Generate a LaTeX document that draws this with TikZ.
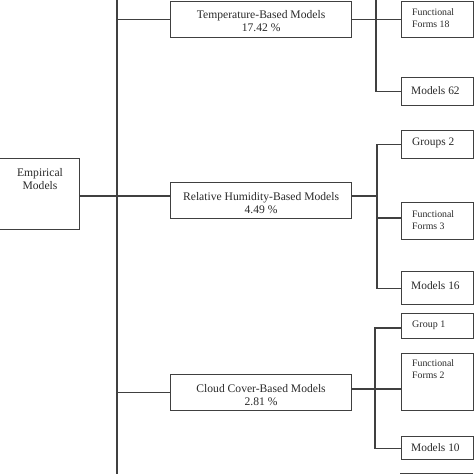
\documentclass[tikz,border=0pt]{standalone}
\usepackage{fontspec}
\setmainfont{Liberation Serif}
\usetikzlibrary{calc}
\definecolor{linec}{HTML}{404040}
\definecolor{txtc}{HTML}{2A2A2A}
\begin{document}
\begin{tikzpicture}[x=1pt,y=-1pt,
  box/.style={draw=linec, line width=1.2pt, inner sep=0pt, anchor=north west},
  conn/.style={draw=linec, line width=1.05pt},
  bigtxt/.style={text=txtc, font=\fontsize{11.6}{13}\selectfont, align=center, inner sep=0pt},
  rtxt/.style={text=txtc, font=\fontsize{11.4}{13}\selectfont, align=left, anchor=west, inner sep=0pt},
  stxt/.style={text=txtc, font=\fontsize{9.8}{12}\selectfont, align=left, inner sep=0pt}]
\useasboundingbox (0,0) rectangle (474,474);
\clip (0,0) rectangle (474,474);
\fill[white] (0,0) rectangle (474,474);

% boxes
\node[box, minimum width=81pt, minimum height=71pt] (emp) at (-2,158) {};
\node[box, minimum width=181pt, minimum height=36pt] (temp) at (170,1) {};
\node[box, minimum width=181pt, minimum height=36pt] (rh) at (170,182) {};
\node[box, minimum width=181pt, minimum height=36pt] (cc) at (170,374) {};
\node[box, minimum width=72pt, minimum height=36pt] (ff18) at (401,1) {};
\node[box, minimum width=72pt, minimum height=28pt] (m62) at (401,77) {};
\node[box, minimum width=72pt, minimum height=28pt] (g2) at (401,130) {};
\node[box, minimum width=72pt, minimum height=37pt] (ff3) at (401,202) {};
\node[box, minimum width=72pt, minimum height=33pt] (m16) at (401,271) {};
\node[box, minimum width=72pt, minimum height=25pt] (g1) at (401,313) {};
\node[box, minimum width=72pt, minimum height=57pt] (ff2) at (401,353) {};
\node[box, minimum width=72pt, minimum height=23pt] (m10) at (401,436) {};
\node[box, line width=2pt, minimum width=71pt, minimum height=20pt] (nextbox) at (400,472.5) {};

% texts
\node[bigtxt] at (40,179) {Empirical\\Models};
\node[bigtxt] at ($(temp.center)+(0,1.5)$) {Temperature-Based Models\\17.42 \%};
\node[bigtxt] at ($(rh.center)+(0,2)$) {Relative Humidity-Based Models\\4.49 \%};
\node[bigtxt] at ($(cc.center)+(0,2)$) {Cloud Cover-Based Models\\2.81 \%};
\node[stxt, anchor=west] at (412,18) {Functional\\Forms 18};
\node[rtxt] at (411,91) {Models 62};
\node[rtxt] at (412,143) {Groups 2};
\node[stxt, anchor=west] at (412,220) {Functional\\Forms 3};
\node[rtxt] at (411,286) {Models 16};
\node[text=txtc, font=\fontsize{10}{12}\selectfont, anchor=west, inner sep=0pt] at (412,325) {Group 1};
\node[stxt, anchor=north west] at (412,359) {Functional\\Forms 2};
\node[rtxt] at (411,448) {Models 10};

% main trunk
\coordinate (ttop) at (117,-2);
\coordinate (tbot) at (117,476);
\draw[conn] (ttop) -- (tbot);
\draw[conn] (emp.east |- 0,196) -- (rh.west |- 0,196);
\draw[conn] (ttop |- temp.west) -- (temp.west);
\draw[conn] (ttop |- cc.west) -- (cc.west);

% temperature branch
\coordinate (s1) at (376,-2);
\draw[conn] (temp.east) -- (ff18.west);
\draw[conn] (s1) |- (m62.west);

% humidity branch
\coordinate (s2) at (377,0);
\draw[conn] (g2.west) -- (g2.west -| s2) -- (m16.west -| s2) -- (m16.west);
\draw[conn] (rh.east |- 0,196) -- (s2 |- 0,196);
\draw[conn] (s2 |- 0,218) -- (ff3.west |- 0,218);

% cloud cover branch
\coordinate (s3) at (375,0);
\draw[conn] (g1.west |- 0,328) -- (s3 |- 0,328) -- (s3 |- m10.west) -- (m10.west);
\draw[conn] (cc.east |- 0,389) -- (ff2.west |- 0,389);
\end{tikzpicture}
\end{document}
